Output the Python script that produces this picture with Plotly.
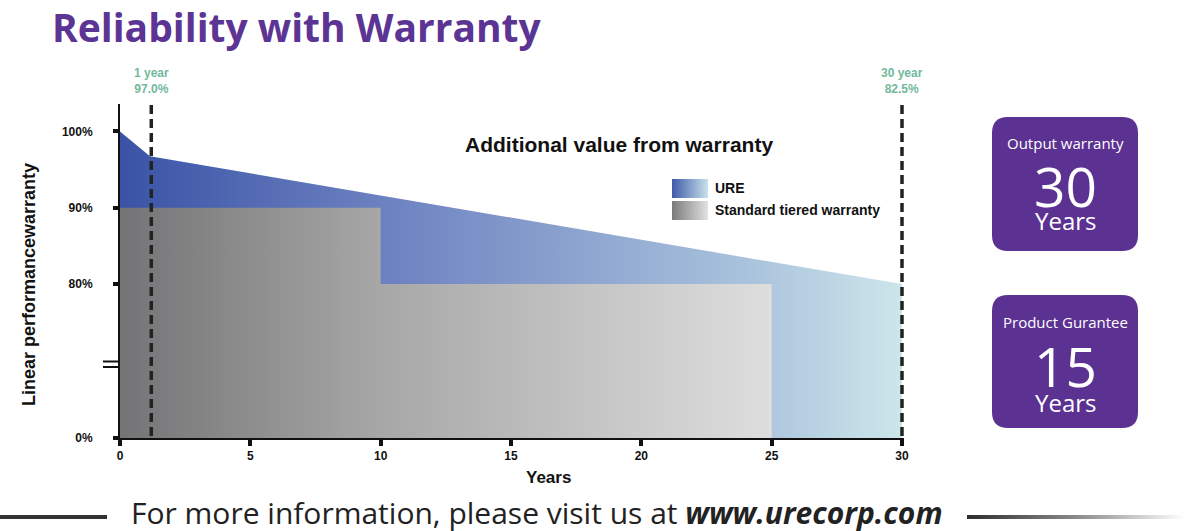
import plotly.graph_objects as go

# ---------------- data ----------------
ure_years = [0, 1.15, 30]
ure_values = [100, 96.75, 80]

std_years = [0, 10, 10, 25, 25]
std_values = [90, 90, 80, 80, 0]

marker_years = [1.2, 30]
marker_labels = ["1 year<br>97.0%", "30 year<br>82.5%"]

x_ticks = [0, 5, 10, 15, 20, 25, 30]
y_tick_vals = [59.83, 80, 90, 100]   # broken axis: bottom of the axis shows 0%
y_tick_text = ["0%", "80%", "90%", "100%"]

box_titles = ["Output warranty", "Product Gurantee"]
box_numbers = ["30", "15"]

W, H = 1200, 531
PURPLE = "#5b3192"
GREEN = "#72b99b"
AX = "Liberation Sans, Arial, sans-serif"
X_MAX = 30.08

fig = go.Figure()

# URE area (blue gradient)
fig.add_trace(go.Scatter(
    x=ure_years, y=ure_values, mode="lines", line=dict(width=0),
    fill="tozeroy",
    fillgradient=dict(type="horizontal",
                      colorscale=[[0, "#3a53a6"], [0.33, "#6b80c0"], [0.8, "#a9c2dc"], [1, "#cde6ea"]]),
    hoverinfo="skip", showlegend=False))

# standard tiered warranty area (gray gradient)
fig.add_trace(go.Scatter(
    x=std_years, y=std_values, mode="lines", line=dict(width=0),
    fill="tozeroy",
    fillgradient=dict(type="horizontal",
                      colorscale=[[0, "#747476"], [0.4, "#a7a7a8"], [1, "#dededf"]]),
    hoverinfo="skip", showlegend=False))

# ---------- decoration layer in page-pixel coordinates (x2/y2) ----------
def px_rect(x0, y0, x1, y1):
    return [x0, x1, x1, x0, x0], [y0, y0, y1, y1, y0]

sx, sy = px_rect(672, 179, 708, 198)
fig.add_trace(go.Scatter(x=sx, y=sy, xaxis="x2", yaxis="y2", mode="lines", line=dict(width=0),
                         fill="toself",
                         fillgradient=dict(type="horizontal", colorscale=[[0, "#3f5aaa"], [1, "#c8e2ea"]]),
                         hoverinfo="skip", showlegend=False))
sx, sy = px_rect(672, 201, 708, 220)
fig.add_trace(go.Scatter(x=sx, y=sy, xaxis="x2", yaxis="y2", mode="lines", line=dict(width=0),
                         fill="toself",
                         fillgradient=dict(type="horizontal", colorscale=[[0, "#7a7a7c"], [1, "#e2e2e2"]]),
                         hoverinfo="skip", showlegend=False))
# footer right gradient rule
sx, sy = px_rect(967, 515, 1185, 519)
fig.add_trace(go.Scatter(x=sx, y=sy, xaxis="x2", yaxis="y2", mode="lines", line=dict(width=0),
                         fill="toself",
                         fillgradient=dict(type="horizontal",
                                           colorscale=[[0, "#2e2e2e"], [0.5, "#8a8a8a"], [1, "rgba(255,255,255,1)"]]),
                         hoverinfo="skip", showlegend=False))

shapes = []
# dashed markers
for xv in marker_years:
    shapes.append(dict(type="line", xref="x", yref="y", x0=xv, x1=xv, y0=60.1, y1=103.6,
                       line=dict(color="#222222", width=3.5, dash="9px,5px"), layer="above"))
# axis break marks
for yy in (361.5, 367):
    shapes.append(dict(type="line", xref="x2", yref="y2", x0=103, x1=118, y0=yy, y1=yy,
                       line=dict(color="#111111", width=2)))
# footer left rule
shapes.append(dict(type="line", xref="x2", yref="y2", x0=0, x1=107, y0=517, y1=517,
                   line=dict(color="#333333", width=4)))


def rounded(x0, y0, x1, y1, r):
    return (f"M{x0+r},{y0} L{x1-r},{y0} Q{x1},{y0} {x1},{y0+r} L{x1},{y1-r} Q{x1},{y1} {x1-r},{y1} "
            f"L{x0+r},{y1} Q{x0},{y1} {x0},{y1-r} L{x0},{y0+r} Q{x0},{y0} {x0+r},{y0} Z")


boxes = [(992, 117, 1138, 251), (992, 295, 1138, 428)]
box_text_offsets = [(26, 68, 103), (27, 70, 107)]
for (x0, y0, x1, y1) in boxes:
    shapes.append(dict(type="path", xref="x2", yref="y2", path=rounded(x0, y0, x1, y1, 16),
                       fillcolor=PURPLE, line=dict(width=0), layer="above"))

ann = []
# title
ann.append(dict(text="<b>Reliability with Warranty</b>", x=50, y=26, xref="x2", yref="y2",
                xanchor="left", yanchor="middle", showarrow=False,
                font=dict(family="Open Sans", size=39, color="#5b3494")))
# marker labels
for xv, lab in zip(marker_years, marker_labels):
    ann.append(dict(text=f"<b>{lab}</b>", x=xv, y=81, xref="x", yref="y2", xanchor="center",
                    yanchor="middle", showarrow=False, align="center",
                    font=dict(family=AX, size=12, color=GREEN)))
# chart inner title + legend text
ann.append(dict(text="<b>Additional value from warranty</b>", x=619, y=144, xref="x2", yref="y2",
                xanchor="center", yanchor="middle", showarrow=False,
                font=dict(family=AX, size=21, color="#111111")))
ann.append(dict(text="<b>URE</b>", x=713, y=188, xref="x2", yref="y2", xanchor="left",
                yanchor="middle", showarrow=False, font=dict(family=AX, size=14, color="#111111")))
ann.append(dict(text="<b>Standard tiered warranty</b>", x=713, y=210, xref="x2", yref="y2",
                xanchor="left", yanchor="middle", showarrow=False,
                font=dict(family=AX, size=14, color="#111111")))
# axis titles
ann.append(dict(text="<b>Years</b>", x=548, y=477, xref="x2", yref="y2", xanchor="center",
                yanchor="middle", showarrow=False, font=dict(family=AX, size=17, color="#111111")))
ann.append(dict(text="<b>Linear performancewarranty</b>", x=29, y=285, xref="x2", yref="y2",
                xanchor="center", yanchor="middle", showarrow=False, textangle=-90,
                font=dict(family=AX, size=18, color="#111111")))
# boxes text
for (x0, y0, x1, y1), (o1, o2, o3), t, n in zip(boxes, box_text_offsets, box_titles, box_numbers):
    cx = (x0 + x1) / 2
    ann.append(dict(text=t, x=cx, y=y0 + o1, xref="x2", yref="y2", xanchor="center", yanchor="middle",
                    showarrow=False, font=dict(family="Open Sans", size=15, color="white")))
    ann.append(dict(text=n, x=cx, y=y0 + o2, xref="x2", yref="y2", xanchor="center", yanchor="middle",
                    showarrow=False, font=dict(family="Open Sans", size=55, color="white")))
    ann.append(dict(text="Years", x=cx, y=y0 + o3, xref="x2", yref="y2", xanchor="center",
                    yanchor="middle", showarrow=False, font=dict(family="Open Sans", size=24, color="white")))
# footer
ann.append(dict(text="For more information, please visit us at <b><i>www.urecorp.com</i></b>",
                x=537, y=512, xref="x2", yref="y2", xanchor="center", yanchor="middle", showarrow=False,
                font=dict(family="Open Sans", size=30, color="#222222")))

fig.update_layout(
    width=W, height=H, margin=dict(l=0, r=0, t=0, b=0, autoexpand=False),
    paper_bgcolor="white", plot_bgcolor="rgba(0,0,0,0)",
    showlegend=False, shapes=shapes, annotations=ann,
    xaxis=dict(domain=[120 / W, (120 + X_MAX * 782 / 30) / W], range=[0, X_MAX], tickvals=x_ticks,
               ticktext=[f"<b>{t}</b>" for t in x_ticks], automargin=False,
               showline=True, linecolor="#111111", linewidth=2, showgrid=False, zeroline=False,
               ticks="outside", ticklen=6, tickwidth=4, tickcolor="#111111",
               tickfont=dict(family=AX, size=12, color="#111111"), anchor="y"),
    yaxis=dict(domain=[1 - 438 / H, 1 - 104 / H], range=[59.83, 103.6], automargin=False,
               tickvals=y_tick_vals, ticktext=[f"<b>{t}</b>" for t in y_tick_text],
               showline=True, linecolor="#111111", linewidth=2, showgrid=False, zeroline=False,
               ticks="outside", ticklen=5, tickwidth=4, tickcolor="#111111", ticklabelstandoff=18,
               tickfont=dict(family=AX, size=12, color="#111111"), anchor="x"),
    xaxis2=dict(domain=[0, 1], range=[0, W], visible=False, anchor="y2", fixedrange=True, automargin=False),
    yaxis2=dict(domain=[0, 1], range=[H, 0], visible=False, anchor="x2", fixedrange=True, automargin=False),
)
fig.update_layout(font=dict(family=AX))

fig.write_html("out.html", config={"displayModeBar": False},
               post_script="document.body.style.margin='0';document.body.style.overflow='hidden';")
